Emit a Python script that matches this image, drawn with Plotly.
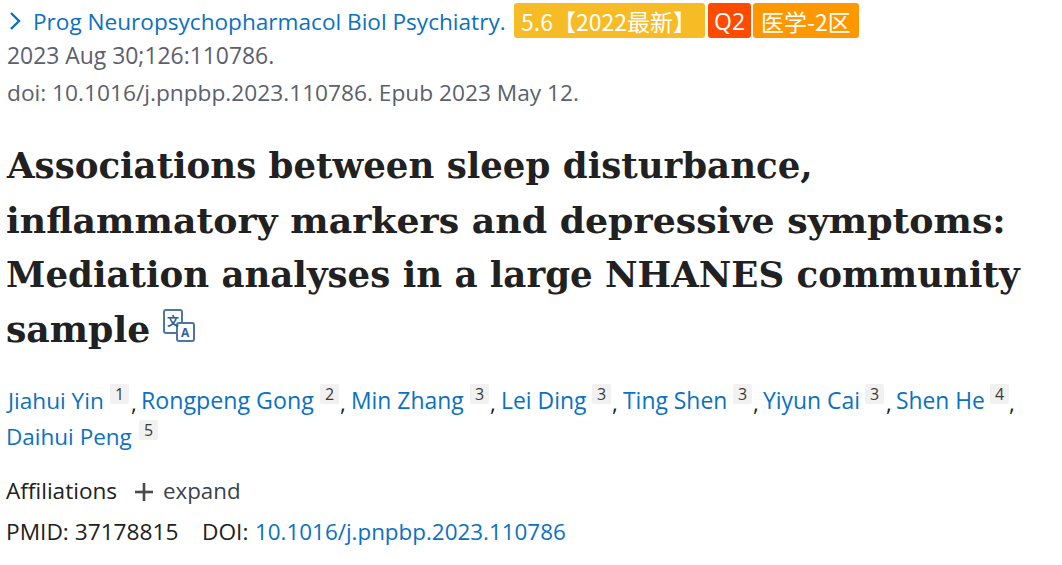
import plotly.graph_objects as go

W, H = 1062, 565
BLUE = "#0b71c1"
GREY = "#5b616b"
DARK = "#212121"
SANS = "Open Sans"
SERIF = "DejaVu Serif"

journal = "Prog Neuropsychopharmacol Biol Psychiatry."
citation = ["2023 Aug 30;126:110786.", "doi: 10.1016/j.pnpbp.2023.110786. Epub 2023 May 12."]
title_lines = ["Associations between sleep disturbance,",
               "inflammatory markers and depressive symptoms:",
               "Mediation analyses in a large NHANES community",
               "sample"]
authors = ["Jiahui Yin", "Rongpeng Gong", "Min Zhang", "Lei Ding", "Ting Shen", "Yiyun Cai", "Shen He", "Daihui Peng"]
affil_nums = ["1", "2", "3", "3", "3", "3", "4", "5"]
badges = ["5.6【2022最新】", "Q2", "医学-2区"]
affiliations = ["Affiliations", "expand"]
pmid = "PMID: 37178815"
doi_label = "DOI:"
doi = "10.1016/j.pnpbp.2023.110786"

fig = go.Figure()
ann = []
shapes = []


def text(x, y, s, size=22.6, color=DARK, family=SANS, weight=400, anchor="left"):
    ann.append(dict(x=x, y=y, text=s, xref="x", yref="y", showarrow=False, xanchor=anchor, yanchor="middle",
                    align="left", borderpad=0, borderwidth=0,
                    font=dict(size=size, color=color, family=family, weight=weight)))


def rrect(x0, y0, x1, y1, fill, r=3, line=None, lw=0):
    p = (f"M{x0+r},{y0} L{x1-r},{y0} Q{x1},{y0} {x1},{y0+r} L{x1},{y1-r} Q{x1},{y1} {x1-r},{y1} "
         f"L{x0+r},{y1} Q{x0},{y1} {x0},{y1-r} L{x0},{y0+r} Q{x0},{y0} {x0+r},{y0} Z")
    shapes.append(dict(type="path", path=p, fillcolor=fill, line=dict(color=line or fill, width=lw), layer="below"))


# header line
shapes.append(dict(type="path", path="M11,13 L19,21 L11,29", line=dict(color=BLUE, width=2.4)))
text(32.5, 21, journal, color=BLUE)
rrect(514, 3, 705, 38, "#f7bb25")
rrect(708, 3, 751, 38, "#ff4b00")
rrect(753, 3, 859, 38, "#ff9800")
text(521, 20.5, badges[0], color="white", family="Noto Sans CJK SC", size=23)
text(729.5, 20.5, badges[1], color="white", family=SANS, size=23, anchor="center")
text(806, 20.5, badges[2], color="white", family="Noto Sans CJK SC", size=23, anchor="center")
text(6.5, 55, citation[0], color=GREY, size=22.9)
text(6.5, 92, citation[1], color=GREY, size=22.7)

# title
for y, s, sz in zip([165, 220, 274, 329], title_lines, [35.6, 36.3, 35.6, 36.2]):
    text(6, y, s, size=sz, color=DARK, family=SERIF, weight=700)

# translate icon
rrect(164, 310, 182, 333, "white", r=2, line="#4f76a3", lw=2)
rrect(177, 323, 194, 341, "white", r=2, line="#4f76a3", lw=2)
text(172.5, 320, "文", size=12, color="#2f5f96", family="Noto Sans CJK SC", weight=700, anchor="center")
text(185.5, 332, "A", size=12, color="#2f5f96", family=SANS, weight=700, anchor="center")

# authors
author_x = [6, 140.5, 351, 501, 623, 763, 896, 6]
author_y = [400] * 7 + [436]
author_sizes = [22.6, 23.2, 22.9, 22.9, 22.9, 22.9, 22.8, 22.5]
badge_x = [110, 320, 470, 592, 733, 865, 990, 139]
comma_x = [130.5, 340, 489.5, 611.5, 752.5, 885.5, 1008.5]
for a, x, y, sz in zip(authors, author_x, author_y, author_sizes):
    text(x, y, a, color=BLUE, size=sz)
for n, x, y in zip(affil_nums, badge_x, author_y):
    rrect(x, y - 16, x + 19, y + 4, "#f1f1f1", r=2)
    text(x + 9.5, y - 6.5, n, size=16, color="#3a3a3a", anchor="center")
for x in comma_x:
    text(x, 402, ",", color=DARK)

# footer
text(6, 490, affiliations[0], color=DARK, size=22.6)
shapes.append(dict(type="line", x0=135, x1=153, y0=492, y1=492, line=dict(color="#4a4a4a", width=2.6)))
shapes.append(dict(type="line", x0=144, x1=144, y0=483, y1=501, line=dict(color="#4a4a4a", width=2.6)))
text(163, 490, affiliations[1], color="#3a424c", size=22.3)
text(6, 531, pmid, color=DARK, size=22.7)
text(201.5, 531, doi_label, color=DARK, size=22.7)
text(255, 531, doi, color=BLUE, size=22.4)

fig.update_layout(
    width=W, height=H, margin=dict(l=0, r=0, t=0, b=0), paper_bgcolor="white", plot_bgcolor="white",
    xaxis=dict(range=[0, W], visible=False, fixedrange=True),
    yaxis=dict(range=[H, 0], visible=False, fixedrange=True),
    annotations=ann, shapes=shapes, showlegend=False,
)
fig.write_html("out.html", config={"displayModeBar": False},
               post_script="document.body.style.margin='0';document.body.style.overflow='hidden';")
